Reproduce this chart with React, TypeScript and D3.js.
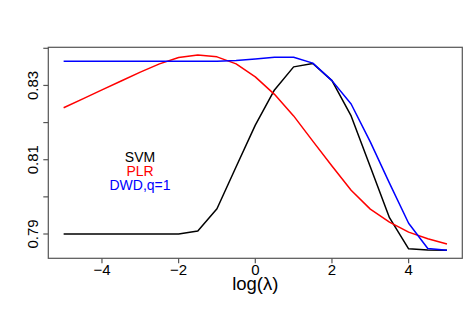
import React from "react";
import * as d3 from "d3";

const lambdas = [-5, -4.5, -4, -3.5, -3, -2.5, -2, -1.5, -1, -0.5, 0, 0.5, 1, 1.5, 2, 2.5, 3, 3.5, 4, 4.5, 5];
const svm = [0.79, 0.79, 0.79, 0.79, 0.79, 0.79, 0.79, 0.7908, 0.7968, 0.8081, 0.8193, 0.8288, 0.835, 0.8359, 0.8313, 0.8218, 0.8081, 0.7944, 0.786, 0.7857, 0.7856];
const plr = [0.824, 0.8264, 0.8288, 0.8312, 0.8336, 0.8358, 0.8375, 0.8382, 0.8377, 0.8358, 0.8323, 0.8276, 0.8218, 0.815, 0.8083, 0.8018, 0.7967, 0.7932, 0.7905, 0.7887, 0.7873];
const dwd = [0.8365, 0.8365, 0.8365, 0.8365, 0.8365, 0.8365, 0.8365, 0.8365, 0.8365, 0.8367, 0.8371, 0.8376, 0.8376, 0.836, 0.8313, 0.825, 0.8148, 0.8037, 0.7929, 0.7861, 0.7856];
const xTicks = [-4, -2, 0, 2, 4];
const yTicks = [0.79, 0.8, 0.81, 0.82, 0.83, 0.84];
const yLabels = [0.79, 0.81, 0.83];
const seriesNames = ["SVM", "PLR", "DWD,q=1"];
const seriesColors = ["#000000", "#ff0000", "#0000ff"];

const W = 474, H = 327;
const L = 48.3, R = 462.3, T = 47.3, B = 258.3;

export default function App() {
  const x = d3.scaleLinear().domain([-5.4, 5.4]).range([L, R]);
  const y = d3.scaleLinear().domain([0.79, 0.84]).range([234, 48.3]);
  const line = d3.line<[number, number]>().x(d => x(d[0])).y(d => y(d[1]));
  const series = [svm, plr, dwd];
  const font = "'Liberation Sans', Arial, Helvetica, sans-serif";
  return (
    <svg width={W} height={H} style={{ position: "absolute", left: 0, top: 0, background: "#fff" }} fontFamily={font}>
      <rect x={0} y={0} width={W} height={H} fill="#fff" />
      {series.map((s, i) => (
        <path key={i} d={line(lambdas.map((l, j) => [l, s[j]] as [number, number])) || ""} fill="none" stroke={seriesColors[i]} strokeWidth={1.5} strokeLinejoin="round" />
      ))}
      <rect x={L} y={T} width={R - L} height={B - T} fill="none" stroke="#555" strokeWidth={1.2} />
      {xTicks.map(t => (
        <g key={t}>
          <line x1={x(t)} x2={x(t)} y1={B} y2={B + 5} stroke="#555" strokeWidth={1.2} />
          <text x={x(t)} y={275} textAnchor="middle" fontSize={15} fill="#000">{t < 0 ? "\u2212" + Math.abs(t) : String(t)}</text>
        </g>
      ))}
      {yTicks.map(t => (
        <line key={t} x1={L - 5} x2={L} y1={y(t)} y2={y(t)} stroke="#555" strokeWidth={1.2} />
      ))}
      {yLabels.map(t => (
        <text key={t} transform={`translate(38.3,${y(t)}) rotate(-90)`} textAnchor="middle" fontSize={15} fill="#000">{t.toFixed(2)}</text>
      ))}
      <text x={(L + R) / 2} y={290} textAnchor="middle" fontSize={18.5} fill="#000">log(λ)</text>
      {seriesNames.map((n, i) => (
        <text key={n} x={140} y={161.7 + i * 14} textAnchor="middle" fontSize={14} fill={seriesColors[i]}>{n}</text>
      ))}
    </svg>
  );
}
